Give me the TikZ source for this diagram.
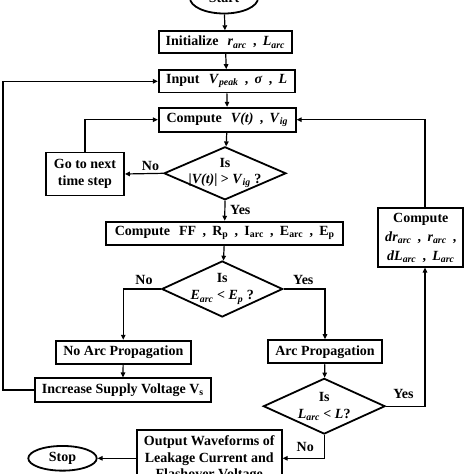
\documentclass[tikz,border=0pt]{standalone}
\usepackage{fontspec}
\setmainfont{Liberation Serif}
\usetikzlibrary{shapes.geometric,arrows.meta}
\newcommand\mv[2]{\textit{#1}\textsubscript{\textit{#2}}}
\newcommand\cs{\hspace{0.45em},\hspace{0.45em}}
\newcommand\ws{\hspace{0.65em}}
\begin{document}
\begin{tikzpicture}[x=1pt,y=-1pt,
  every node/.style={font=\fontsize{14}{16.5}\selectfont\bfseries},
  box/.style={draw, line width=1.8pt, inner sep=0pt, align=center},
  dia/.style={draw, shape=diamond, line width=1.8pt, inner sep=0pt},
  term/.style={draw, ellipse, line width=1.8pt, inner sep=0pt},
  arr/.style={-{Triangle[length=5pt,width=4.5pt]}, line width=1.2pt},
  lab/.style={inner sep=0pt}]
\useasboundingbox (0,0) rectangle (474,474);
\clip (0,0) rectangle (474,474);

\node[term, minimum width=68pt, minimum height=31pt] (start) at (224,-2) {Start};
\node[box, minimum width=133pt, minimum height=22pt] (init) at (225.3,42.2) {Initialize\ws\mv{r}{arc}\cs\mv{L}{arc}};
\node[box, minimum width=136pt, minimum height=22.5pt] (input) at (226.7,81.3) {Input\ws\mv{V}{peak}\cs\textit{σ}\cs\textit{L}};
\node[box, minimum width=137pt, minimum height=24pt] (compV) at (227.3,119.7) {Compute\ws\textit{V(t)}\cs\mv{V}{ig}};
\node[dia, minimum width=122pt, minimum height=53pt,
  label={[align=center,font=\fontsize{14}{16}\selectfont\bfseries]center:Is\\|\textit{V(t)}| > \mv{V}{ig} ?}] (d1) at (225,173.3) {};
\node[box, minimum width=78pt, minimum height=43pt, font=\fontsize{14}{17}\selectfont\bfseries] (goto) at (85,174) {Go to next\\time step};
\node[box, minimum width=237pt, minimum height=23.3pt] (compFF) at (224.7,233.3) {Compute\ws FF\cs R\textsubscript{p}\cs I\textsubscript{arc}\cs E\textsubscript{arc}\cs E\textsubscript{p}};
\node[dia, minimum width=121pt, minimum height=56pt,
  label={[align=center,font=\fontsize{14}{17}\selectfont\bfseries]center:Is\\\mv{E}{arc} < \mv{E}{p} ?}] (d2) at (222.2,289) {};
\node[box, minimum width=134.7pt, minimum height=23.3pt] (noarc) at (123.3,352.3) {No Arc Propagation};
\node[box, minimum width=113.4pt, minimum height=23.3pt] (arc) at (325,351.7) {Arc Propagation};
\node[box, minimum width=175.7pt, minimum height=23.3pt] (incr) at (122.8,390) {Increase Supply Voltage V\textsubscript{s}};
\node[dia, minimum width=121.7pt, minimum height=55.7pt,
  label={[align=center,font=\fontsize{14}{17}\selectfont\bfseries]center:Is\\\mv{L}{arc} < \textit{L}?}] (d3) at (324.2,406.2) {};
\node[box, minimum width=85pt, minimum height=58.4pt, font=\fontsize{14}{19}\selectfont\bfseries] (compR) at (420.8,237.5) {Compute\\\textit{d}\mv{r}{arc}\cs\mv{r}{arc}\hspace{0.45em},\\\textit{d}\mv{L}{arc}\cs\mv{L}{arc}};
\node[box, minimum width=145pt, minimum height=57pt, anchor=north, font=\fontsize{14}{16.7}\selectfont\bfseries] (out) at (209.2,429.3) {Output Waveforms of\\Leakage Current and\\Flashover Voltage};
\node[term, minimum width=68.4pt, minimum height=24.7pt] (stop) at (62.5,458.3) {Stop};

\coordinate (lft) at (3,390);
\coordinate (gotop) at (85,119.7);
\coordinate (rtop) at (425,119.7);
\coordinate (d3r) at (425,406.2);
\coordinate (outr) at (324.2,458.3);

\draw[arr] (start) -- (init);
\draw[arr] (init) -- (input);
\draw[arr] (input) -- (compV);
\draw[arr] (compV) -- (d1);
\draw[arr] (d1.west) -- (goto.east);
\draw[arr] (goto.north) -- (gotop) -- (compV.west);
\draw[arr] (d1.south) -- (compFF.north);
\draw[arr] (compFF) -- (d2);
\draw[arr] (d2.west) -| (noarc.north);
\draw[arr] (d2.east) -| (arc.north);
\draw[arr] (noarc) -- (incr);
\draw[arr] (incr.west) -- (lft) |- (input.west);
\draw[arr] (arc) -- (d3);
\draw[arr] (d3.east) -- (d3r) -- (d3r |- compR.south);
\draw[arr] (compR.north -| rtop) -- (rtop) -- (compV.east);
\draw[arr] (d3.south) -- (outr) -- (out.east |- outr);
\draw[arr] (out.west |- stop) -- (stop.east);

\node[lab] at (150.5,165.7) {No};
\node[lab] at (240.3,210) {Yes};
\node[lab] at (144,280) {No};
\node[lab] at (303.3,280) {Yes};
\node[lab] at (403.5,394.3) {Yes};
\node[lab] at (305.3,447.3) {No};
\end{tikzpicture}
\end{document}
